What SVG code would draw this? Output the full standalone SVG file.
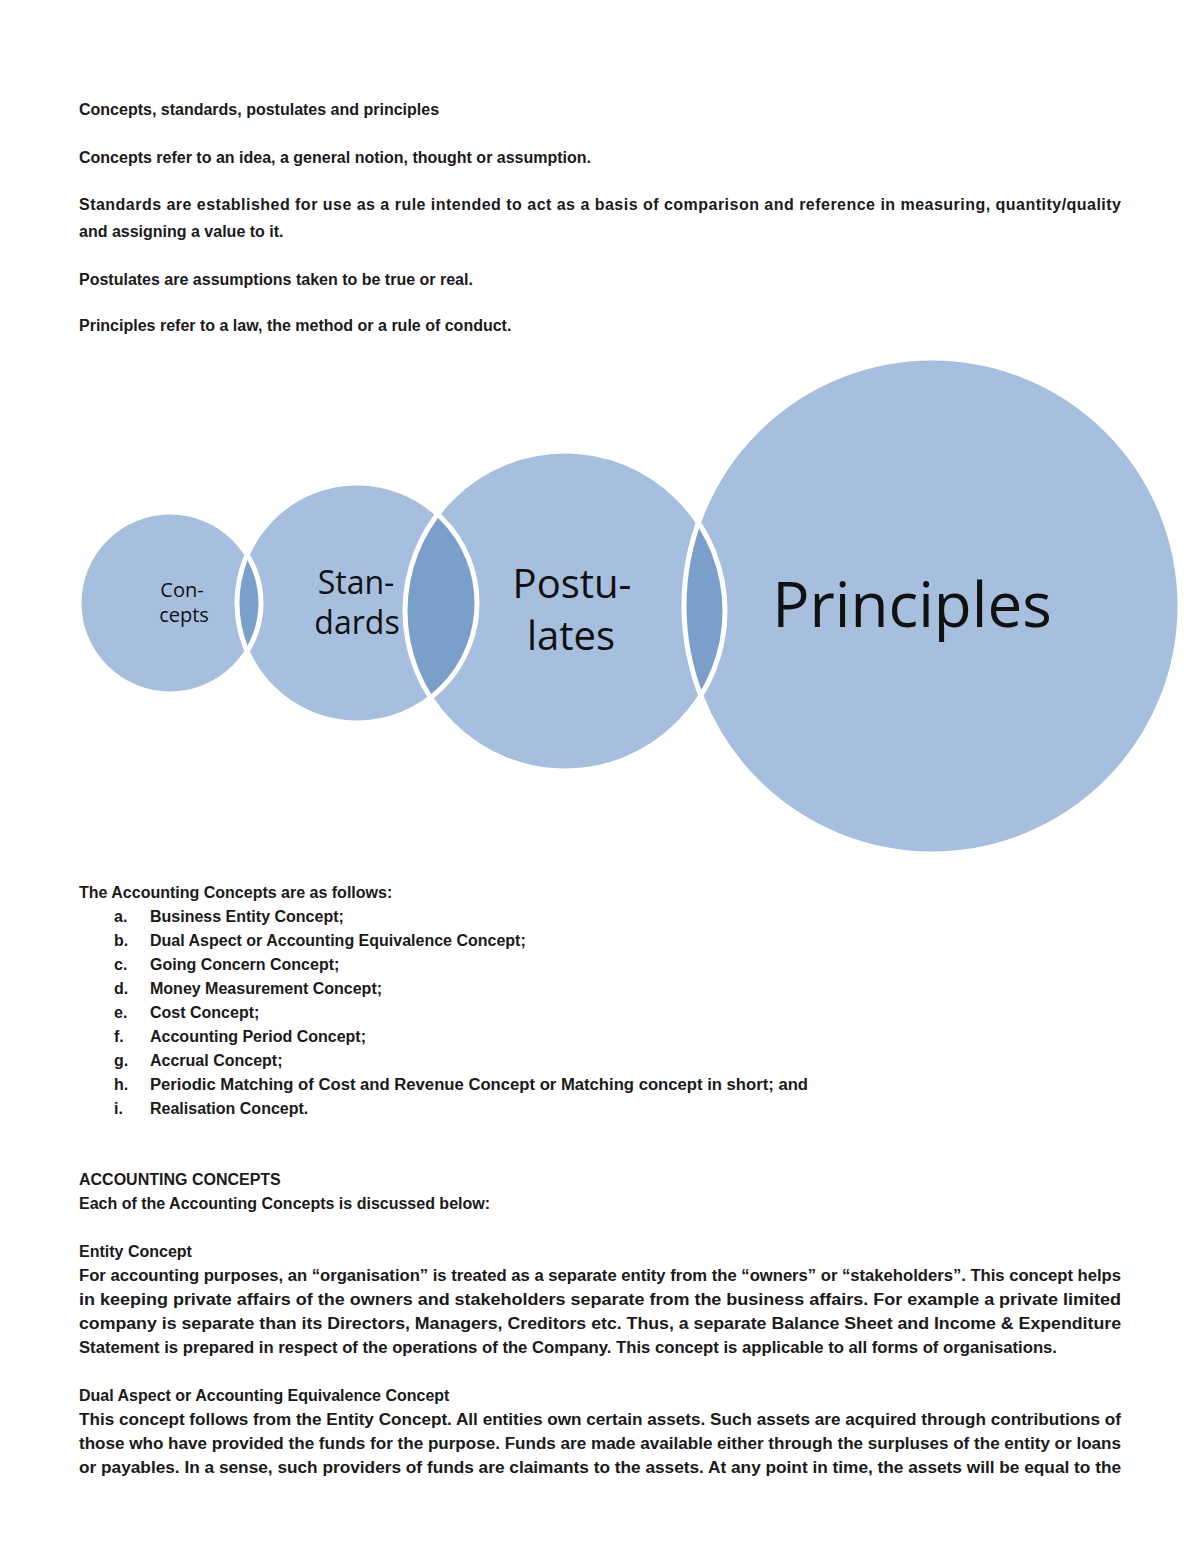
<svg xmlns="http://www.w3.org/2000/svg" width="1200" height="1553" viewBox="0 0 1200 1553">
<style>
.t{font-family:"Liberation Sans",Arial,sans-serif;font-size:16px;font-weight:bold;fill:#1a1a1a}
.c{fill:#a7bfde}
.l{fill:#7b9fcb}
.s{fill:none;stroke:#fff;stroke-width:5}
.lab{font-family:"Open Sans","Liberation Sans",sans-serif;fill:#111;text-anchor:middle}
</style>
<rect width="1200" height="1553" fill="#fff"/>
<defs>
<clipPath id="cA"><circle cx="170" cy="603" r="91"/></clipPath>
<clipPath id="cB"><circle cx="357" cy="603" r="120"/></clipPath>
<clipPath id="cC"><circle cx="565" cy="611" r="160"/></clipPath>
</defs>
<g class="t">
<text x="79" y="115">Concepts, standards, postulates and principles</text>
<text x="79" y="163">Concepts refer to an idea, a general notion, thought or assumption.</text>
<text x="79" y="210" textLength="1042" lengthAdjust="spacing">Standards are established for use as a rule intended to act as a basis of comparison and reference in measuring, quantity/quality</text>
<text x="79" y="237">and assigning a value to it.</text>
<text x="79" y="285">Postulates are assumptions taken to be true or real.</text>
<text x="79" y="331">Principles refer to a law, the method or a rule of conduct.</text>
</g>
<g id="principles"><circle class="c" cx="932" cy="606" r="248"/></g>
<g id="postulates"><circle class="c" cx="565" cy="611" r="160"/></g>
<g id="standards"><circle class="c" cx="357" cy="603" r="120"/></g>
<g id="concepts"><circle class="c" cx="170" cy="603" r="91"/></g>
<g id="overlaps">
<circle class="l" cx="357" cy="603" r="120" clip-path="url(#cA)"/>
<circle class="l" cx="565" cy="611" r="160" clip-path="url(#cB)"/>
<circle class="l" cx="932" cy="606" r="248" clip-path="url(#cC)"/>
<circle class="s" cx="932" cy="606" r="248"/>
<circle class="s" cx="565" cy="611" r="160"/>
<circle class="s" cx="357" cy="603" r="120"/>
<circle class="s" cx="170" cy="603" r="91"/>
</g>
<g id="labels">
<text class="lab" x="182" y="597" font-size="20">Con-</text>
<text class="lab" x="184" y="622" font-size="20">cepts</text>
<text class="lab" x="356" y="594" font-size="32">Stan-</text>
<text class="lab" x="357" y="634" font-size="32">dards</text>
<text class="lab" x="572" y="598" font-size="40">Postu-</text>
<text class="lab" x="571" y="650" font-size="40">lates</text>
<text class="lab" x="912" y="627" font-size="62">Principles</text>
</g>
<g class="t">
<text x="79" y="898">The Accounting Concepts are as follows:</text>
<text x="114" y="922">a.</text><text x="150" y="922">Business Entity Concept;</text>
<text x="114" y="946">b.</text><text x="150" y="946">Dual Aspect or Accounting Equivalence Concept;</text>
<text x="114" y="970">c.</text><text x="150" y="970">Going Concern Concept;</text>
<text x="114" y="994">d.</text><text x="150" y="994">Money Measurement Concept;</text>
<text x="114" y="1018">e.</text><text x="150" y="1018">Cost Concept;</text>
<text x="114" y="1042">f.</text><text x="150" y="1042">Accounting Period Concept;</text>
<text x="114" y="1066">g.</text><text x="150" y="1066">Accrual Concept;</text>
<text x="114" y="1090">h.</text><text x="150" y="1090" textLength="658" lengthAdjust="spacingAndGlyphs">Periodic Matching of Cost and Revenue Concept or Matching concept in short; and</text>
<text x="114" y="1114">i.</text><text x="150" y="1114">Realisation Concept.</text>
<text x="79" y="1185">ACCOUNTING CONCEPTS</text>
<text x="79" y="1209">Each of the Accounting Concepts is discussed below:</text>
<text x="79" y="1257">Entity Concept</text>
<text x="79" y="1281" textLength="1042" lengthAdjust="spacingAndGlyphs">For accounting purposes, an “organisation” is treated as a separate entity from the “owners” or “stakeholders”. This concept helps</text>
<text x="79" y="1305" textLength="1042" lengthAdjust="spacingAndGlyphs">in keeping private affairs of the owners and stakeholders separate from the business affairs. For example a private limited</text>
<text x="79" y="1329" textLength="1042" lengthAdjust="spacingAndGlyphs">company is separate than its Directors, Managers, Creditors etc. Thus, a separate Balance Sheet and Income &amp; Expenditure</text>
<text x="79" y="1353" textLength="978" lengthAdjust="spacingAndGlyphs">Statement is prepared in respect of the operations of the Company. This concept is applicable to all forms of organisations.</text>
<text x="79" y="1401">Dual Aspect or Accounting Equivalence Concept</text>
<text x="79" y="1425" textLength="1042" lengthAdjust="spacingAndGlyphs">This concept follows from the Entity Concept. All entities own certain assets. Such assets are acquired through contributions of</text>
<text x="79" y="1449" textLength="1042" lengthAdjust="spacingAndGlyphs">those who have provided the funds for the purpose. Funds are made available either through the surpluses of the entity or loans</text>
<text x="79" y="1473" textLength="1042" lengthAdjust="spacingAndGlyphs">or payables. In a sense, such providers of funds are claimants to the assets. At any point in time, the assets will be equal to the</text>
</g>
</svg>
